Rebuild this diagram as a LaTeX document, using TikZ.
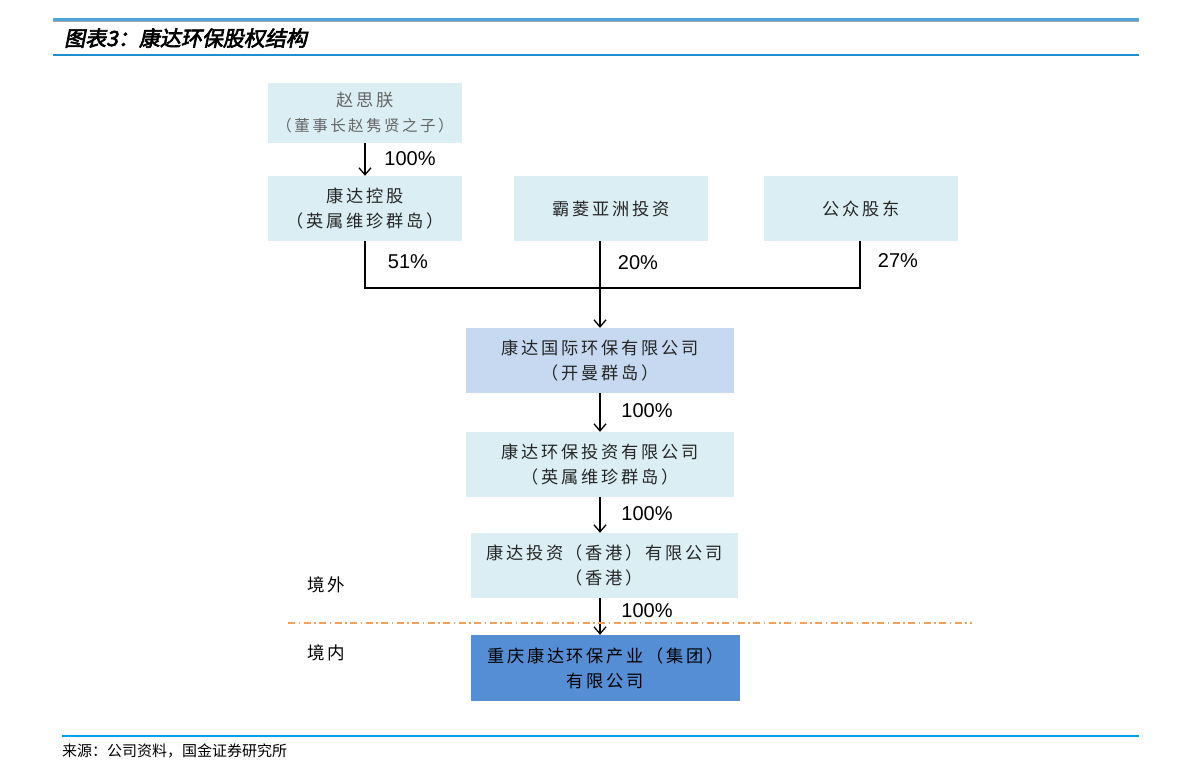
\documentclass[tikz,border=0pt]{standalone}
\usepackage{fontspec}
\setmainfont{Liberation Sans}
\newfontfamily\cjk[LetterSpace=16]{Noto Sans CJK SC}
\newfontfamily\cjkplain{Noto Sans CJK SC}
\newfontfamily\cjkside[LetterSpace=14]{Noto Sans CJK SC}
\newfontfamily\cjktitle[BoldFont=*,AutoFakeBold=3,FakeSlant=0.2]{Noto Sans CJK SC}
\usetikzlibrary{arrows.meta}
\definecolor{boxlight}{HTML}{DAEEF3}
\definecolor{boxmid}{HTML}{C6D9F1}
\definecolor{boxdark}{HTML}{558ED5}
\definecolor{rulebl}{HTML}{1F8FD0}
\definecolor{footbl}{HTML}{00A0E9}
\definecolor{dashor}{HTML}{F5A05A}
\tikzset{
  co/.style={rectangle, fill=boxlight, draw=none, align=center, inner sep=0pt,
    font=\cjk\fontsize{17.2}{25}\selectfont, text=black!85},
  pct/.style={font=\fontsize{20}{20}\selectfont, inner sep=0pt},
  link/.style={line width=1.3pt, draw=black},
  arr/.style={link, -{Straight Barb[length=7pt,width=12pt,line width=1.3pt]}},
}
\begin{document}
\begin{tikzpicture}[x=1pt,y=-1pt]
\useasboundingbox (0,0) rectangle (1191,779);
\fill[white] (0,0) rectangle (1191,779);
% header rules
\draw[line width=2.2pt, color=rulebl!80] (53,19.5) -- (1139,19.5);
\draw[line width=0.8pt, color=gray!70] (53,21.3) -- (1139,21.3);
\draw[line width=1.2pt, color=rulebl] (53,55) -- (1139,55);
\node[anchor=west, inner sep=0pt, font=\cjktitle\bfseries\fontsize{21}{21}\selectfont] (title) at (64,38) {图表3：康达环保股权结构};
% footer
\draw[line width=1.8pt, color=footbl] (62,736) -- (1139,736);
\node[anchor=west, inner sep=0pt, font=\cjkplain\fontsize{15}{15}\selectfont] (src) at (62,751) {来源：公司资料，国金证券研究所};
% boxes
\node[co, minimum width=194pt, minimum height=60pt, text=black!60, font=\cjk\fontsize{15.5}{25}\selectfont] (zhao) at (365,113) {{\fontsize{17.2}{25}\selectfont 赵思朕}\\（董事长赵隽贤之子）};
\node[co, minimum width=194pt, minimum height=65pt] (kdkg) at (365,208.5) {康达控股\\（英属维珍群岛）};
\node[co, minimum width=194pt, minimum height=65pt] (baling) at (611,208.5) {霸菱亚洲投资};
\node[co, minimum width=194pt, minimum height=65pt] (gz) at (861,208.5) {公众股东};
\node[co, fill=boxmid, minimum width=268pt, minimum height=65pt] (guoji) at (600,360.5) {康达国际环保有限公司\\（开曼群岛）};
\node[co, minimum width=268pt, minimum height=65pt] (touzi) at (600,464.5) {康达环保投资有限公司\\（英属维珍群岛）};
\node[co, minimum width=267pt, minimum height=65pt] (hk) at (604.5,565.5) {康达投资（香港）有限公司\\（香港）};
\node[co, fill=boxdark, minimum width=269pt, minimum height=66pt, text=black] (cq) at (605.5,668) {重庆康达环保产业（集团）\\有限公司};
% connectors
\coordinate (j) at (600,288);
\coordinate (jl) at (365,288);
\coordinate (jr) at (860,288);
\draw[arr] (zhao.south) -- (kdkg.north);
\draw[link] (kdkg.south) -- (jl) -- (jr) -- (jr |- gz.south);
\draw[arr] (j |- baling.south) -- (j |- guoji.north);
\draw[arr] (j |- guoji.south) -- (j |- touzi.north);
\draw[arr] (j |- touzi.south) -- (j |- hk.north);
\draw[arr] (j |- hk.south) -- (j |- cq.north);
% labels
\node[pct] (p1) at (410,159) {100\%};
\node[pct] (p2) at (408,262) {51\%};
\node[pct] (p3) at (638,263) {20\%};
\node[pct] (p4) at (898,261) {27\%};
\node[pct] (p5) at (647,411) {100\%};
\node[pct] (p6) at (647,514) {100\%};
\node[pct] (p7) at (647,611) {100\%};
% border line
\draw[line width=1.3pt, color=dashor, dash pattern=on 7pt off 3.5pt on 1.5pt off 3.5pt] (288,623) -- (972,623);
\node[inner sep=0pt, font=\cjkside\fontsize{17.5}{18}\selectfont] (jw) at (326,585) {境外};
\node[inner sep=0pt, font=\cjkside\fontsize{17.5}{18}\selectfont] (jn) at (326,653) {境内};
\end{tikzpicture}
\end{document}
